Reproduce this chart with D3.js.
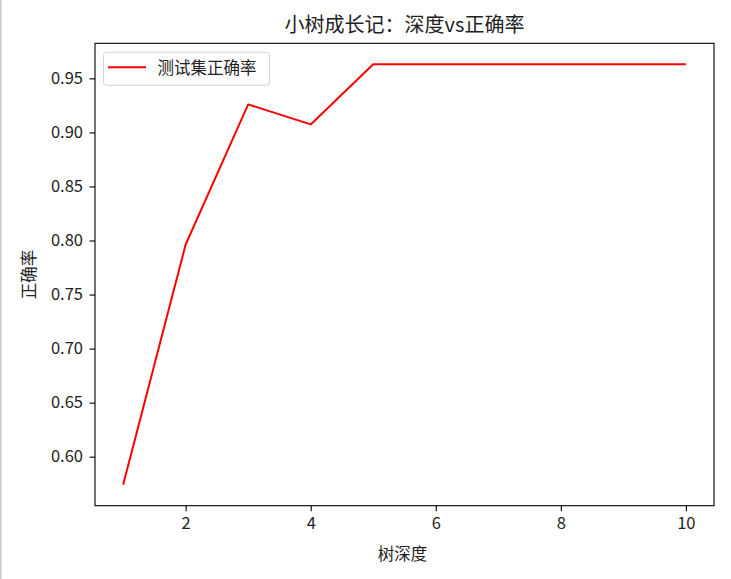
<!DOCTYPE html>
<html>
<head>
<meta charset="utf-8">
<script src="https://cdn.jsdelivr.net/npm/d3@7"></script>
<style>
  html, body { margin: 0; padding: 0; background: #fff; }
  svg { display: block; font-family: "Noto Sans CJK SC", "Noto Sans", sans-serif; }
</style>
</head>
<body>
<div id="viz"></div>
<script>
// tree depth vs test accuracy
const depths = [1, 2, 3, 4, 5, 6, 7, 8, 9, 10];
const testAccuracy = [0.5741, 0.7963, 0.9259, 0.9074, 0.9630, 0.9630, 0.9630, 0.9630, 0.9630, 0.9630];
const xTicks = [2, 4, 6, 8, 10];
const yTicks = [0.60, 0.65, 0.70, 0.75, 0.80, 0.85, 0.90, 0.95];
const seriesName = '测试集正确率';

const width = 731;
const height = 579;
const margin = { top: 43.3, right: 17, bottom: 73.3, left: 95 };

const svg = d3.select('#viz')
  .append('svg')
  .attr('width', width)
  .attr('height', height);

// screenshot border on the left
svg.append('line')
  .attr('x1', 0.75).attr('x2', 0.75)
  .attr('y1', 0).attr('y2', height)
  .attr('stroke', '#c8c8c8')
  .attr('stroke-width', 1.5);

const xPad = (d3.max(depths) - d3.min(depths)) * 0.05;
const yPad = (d3.max(testAccuracy) - d3.min(testAccuracy)) * 0.05;

const x = d3.scaleLinear()
  .domain([d3.min(depths) - xPad, d3.max(depths) + xPad])
  .range([margin.left, width - margin.right]);

const y = d3.scaleLinear()
  .domain([d3.min(testAccuracy) - yPad, d3.max(testAccuracy) + yPad])
  .range([height - margin.bottom, margin.top]);

const fontSize = 16.5;

const xAxis = svg.append('g')
  .attr('transform', `translate(0, ${height - margin.bottom})`)
  .call(d3.axisBottom(x).tickValues(xTicks).tickSize(5.5).tickPadding(6).tickFormat(d3.format('d')));

const yAxis = svg.append('g')
  .attr('transform', `translate(${margin.left}, 0)`)
  .call(d3.axisLeft(y).tickValues(yTicks).tickSize(5.5).tickPadding(6.5).tickFormat(d3.format('.2f')));

[xAxis, yAxis].forEach((g) => {
  g.select('.domain').remove();
  g.selectAll('.tick line').attr('stroke', '#000').attr('stroke-width', 1.1);
  g.selectAll('.tick text')
    .attr('fill', '#222')
    .style('font-size', `${fontSize}px`)
    .style('font-family', '"Noto Sans CJK SC", sans-serif');
});

// axes frame
svg.append('rect')
  .attr('x', margin.left)
  .attr('y', margin.top)
  .attr('width', width - margin.left - margin.right)
  .attr('height', height - margin.top - margin.bottom)
  .attr('fill', 'none')
  .attr('stroke', '#000')
  .attr('stroke-width', 1.1);

const line = d3.line()
  .x((d, i) => x(depths[i]))
  .y(d => y(d));

svg.append('path')
  .datum(testAccuracy)
  .attr('d', line)
  .attr('fill', 'none')
  .attr('stroke', '#ff0000')
  .attr('stroke-width', 2)
  .attr('stroke-linejoin', 'round');

// title and axis labels
svg.append('text')
  .attr('x', (margin.left + width - margin.right) / 2)
  .attr('y', 31.5)
  .attr('text-anchor', 'middle')
  .style('font-size', '20px')
  .attr('fill', '#222')
  .text('小树成长记：深度vs正确率');

svg.append('text')
  .attr('x', (margin.left + width - margin.right) / 2 - 2)
  .attr('y', 560)
  .attr('text-anchor', 'middle')
  .style('font-size', `${fontSize}px`)
  .attr('fill', '#222')
  .text('树深度');

svg.append('text')
  .attr('transform', `translate(35, ${(margin.top + height - margin.bottom) / 2}) rotate(-90)`)
  .attr('text-anchor', 'middle')
  .style('font-size', `${fontSize}px`)
  .attr('fill', '#222')
  .text('正确率');

// legend
const legend = svg.append('g')
  .attr('transform', `translate(${margin.left + 8.5}, ${margin.top + 9})`);

legend.append('rect')
  .attr('width', 166)
  .attr('height', 33)
  .attr('rx', 3)
  .attr('fill', 'rgba(255,255,255,0.8)')
  .attr('stroke', '#d6d6d6')
  .attr('stroke-width', 1);

legend.append('line')
  .attr('x1', 4.5).attr('x2', 42.5)
  .attr('y1', 15).attr('y2', 15)
  .attr('stroke', '#ff0000')
  .attr('stroke-width', 2);

legend.append('text')
  .attr('x', 54)
  .attr('y', 21.5)
  .style('font-size', `${fontSize}px`)
  .attr('fill', '#222')
  .text(seriesName);
</script>
</body>
</html>
